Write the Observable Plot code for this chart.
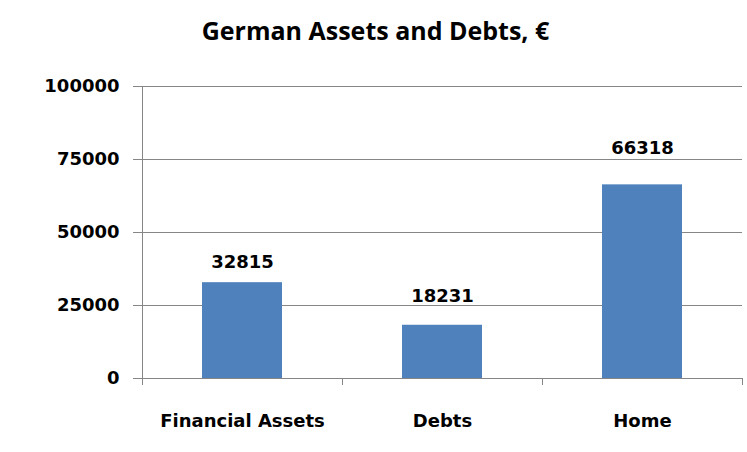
<!DOCTYPE html>
<html>
<head>
<meta charset="utf-8">
<script src="https://cdn.jsdelivr.net/npm/d3@7"></script>
<script src="https://cdn.jsdelivr.net/npm/@observablehq/plot@0.6"></script>
<style>
  html, body { margin: 0; padding: 0; background: #ffffff; }
  #title {
    box-sizing: border-box;
    width: 747px; height: 60px;
    padding-top: 18px; padding-left: 4px;
    text-align: center;
    font-family: "Open Sans", sans-serif; font-weight: 700; font-size: 25px;
    line-height: 25px; color: #000;
  }
  svg { display: block; }
</style>
</head>
<body>
<div id="title">German Assets and Debts, €</div>
<div id="chart"></div>
<script>
const categories = ["Financial Assets", "Debts", "Home"];
const values = [32815, 18231, 66318];
const yTicks = [0, 25000, 50000, 75000, 100000];

const data = categories.map((c, i) => ({category: c, value: values[i]}));

const W = 747, H = 392;
const mL = 142, mR = 5, mT = 26, mB = 74;
const step = (W - mL - mR) / categories.length;
const gray = "#868686";
const barColor = "#4F81BD";
// pixel lift of each data label above its bar (style, not data)
const labelLift = [15, 23, 31];

const chart = Plot.plot({
  width: W, height: H,
  marginLeft: mL, marginRight: mR, marginTop: mT, marginBottom: mB,
  style: {fontFamily: "'DejaVu Sans', sans-serif", fontWeight: "bold", fontSize: "18px", color: "#000", background: "#fff"},
  x: {domain: categories, paddingInner: 0.6, paddingOuter: 0.3, label: null},
  y: {domain: [0, 100000], label: null},
  marks: [
    Plot.gridY(yTicks, {stroke: gray, strokeOpacity: 1}),
    Plot.frame({anchor: "left", stroke: gray}),
    Plot.ruleY([0], {stroke: gray}),
    Plot.barY(data, {x: "category", y: "value", fill: barColor}),
    Plot.axisY(yTicks, {tickSize: 9, tickPadding: 14, stroke: gray, tickFormat: d => String(d), fill: "#000"}),
    Plot.axisX({tickSize: 0, tickPadding: 36, fill: "#000"}),
    Plot.axisX(categories, {tickSize: 7, dx: -step / 2, stroke: gray, tickFormat: () => ""}),
    Plot.axisX([categories[categories.length - 1]], {tickSize: 7, dx: step / 2, stroke: gray, tickFormat: () => ""}),
    ...data.map((d, i) => Plot.text([d], {
      x: "category", y: "value", text: r => String(r.value),
      lineAnchor: "bottom", dy: -labelLift[i], fill: "#000"
    }))
  ]
});
document.getElementById("chart").appendChild(chart);
</script>
</body>
</html>
